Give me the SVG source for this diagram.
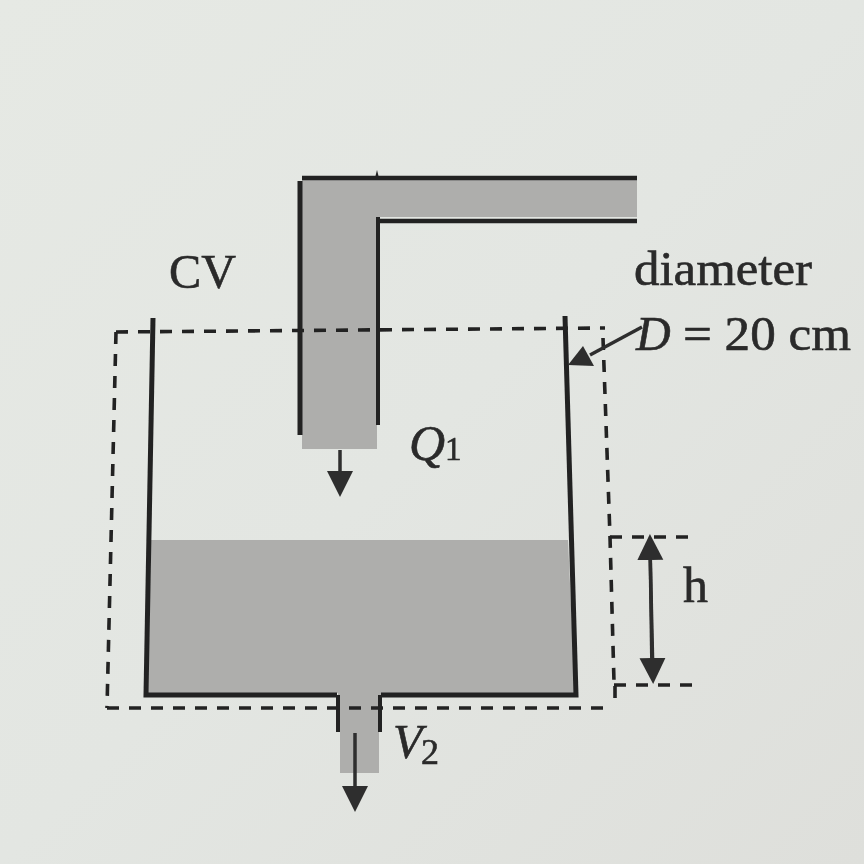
<svg xmlns="http://www.w3.org/2000/svg" width="864" height="864" viewBox="0 0 864 864">
<defs>
<linearGradient id="bg" x1="0" y1="0" x2="1" y2="1"><stop offset="0" stop-color="#e6e9e4"/><stop offset="0.5" stop-color="#e3e6e2"/><stop offset="1" stop-color="#dedfdb"/></linearGradient>
<filter id="soft" x="-5%" y="-5%" width="110%" height="110%"><feGaussianBlur stdDeviation="0.6"/></filter>
<marker id="head" markerUnits="userSpaceOnUse" markerWidth="28" markerHeight="28" refX="20" refY="13" orient="auto"><path d="M0,0 L26,13 L0,26 Z" fill="#2e2e2e"/></marker>
<style>
.water{fill:#aeaeac}
.wall{fill:none;stroke:#222;stroke-width:5;stroke-linejoin:miter}
.pipe{fill:none;stroke:#222;stroke-width:4.5}
.thin{fill:none;stroke:#222;stroke-width:4}
.dash{fill:none;stroke:#222;stroke-width:3.6;stroke-dasharray:12 10}
.arrow{fill:none;stroke:#2e2e2e;stroke-width:3.5}
text{font-family:"Liberation Serif","Times New Roman",serif;fill:#2a2a2a;stroke:#2a2a2a;stroke-width:0.6;font-size:48px}
.it{font-style:italic}
</style>
</defs>
<rect width="864" height="864" fill="url(#bg)"/>
<g filter="url(#soft)">
<g id="tank">
<polygon class="water" points="151,540 568,540 575,693 382,693 382,695 338,695 338,693 148,693"/>
<path class="wall" d="M153,318 L146,695 L337,695"/>
<path class="wall" d="M565,316 L576,695 L381,695"/>
</g>
<g id="inlet-pipe">
<path class="water" d="M302,180 H637 V217 H377 V449 H302 Z"/>
<path class="wall" d="M300,181 V435"/>
<path class="pipe" d="M302,178 H637"/>
<path class="thin" d="M378,217 V425"/>
<path class="pipe" d="M378,221 H637"/>
<path d="M375,178 L377,170 L379,178 Z" fill="#222"/>
</g>
<g id="outlet-pipe">
<rect class="water" x="340" y="695" width="39" height="78"/>
<path class="thin" d="M338,695 V732"/>
<path class="thin" d="M380,695 V732"/>
</g>
<g id="connectors">
<path class="dash" d="M116,332 L605,328"/>
<path class="dash" d="M116,332 L107,708"/>
<path class="dash" d="M107,708 L613,708"/>
<path class="dash" d="M603,338 L610,537 L614,682"/>
<path class="dash" d="M615,686 V708"/>
<path class="dash" d="M610,537 H690"/>
<path class="dash" d="M614,685 H697"/>
<path class="arrow" d="M340,450 L340,491" marker-end="url(#head)"/>
<path class="arrow" d="M355,733 L355,806" marker-end="url(#head)"/>
<path class="arrow" d="M652,672 L650,540" marker-end="url(#head)"/>
<path class="arrow" d="M650,548 L653,678" marker-end="url(#head)"/>
<path class="arrow" d="M642,327 L590,355" stroke-width="3"/>
<polygon points="568,365 583,346 594,366" fill="#2e2e2e"/>
</g>
<g id="label-cv"><text x="169" y="288" textLength="67" lengthAdjust="spacingAndGlyphs">CV</text></g>
<g id="label-diameter">
<text x="634" y="285" textLength="178" lengthAdjust="spacingAndGlyphs">diameter</text>
<text x="636" y="350" class="it">D</text>
<text x="683" y="350" textLength="168" lengthAdjust="spacingAndGlyphs">= 20 cm</text>
</g>
<g id="label-q1"><text x="409" y="460" class="it" style="font-size:50px">Q</text><text x="445" y="460" style="font-size:33px">1</text></g>
<g id="label-h"><text x="683" y="602" style="font-size:50px">h</text></g>
<g id="label-v2"><text x="393" y="758" class="it">V</text><text x="421" y="764" style="font-size:36px">2</text></g>
</g>
</svg>
